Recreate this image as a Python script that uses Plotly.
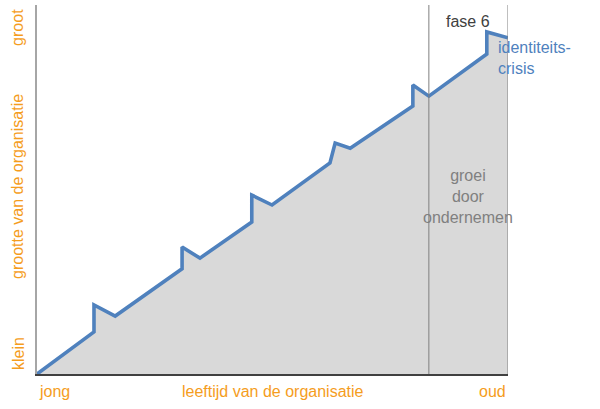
import plotly.graph_objects as go

# growth curve (age 0..100, size 0..100)
age = [0, 12.1, 12.1, 16.6, 30.8, 30.8, 34.6, 45.6, 45.6, 49.9,
       62.2, 63.3, 66.5, 79.8, 79.8, 83.2, 95.5, 95.5, 100]
size = [0, 11.4, 18.7, 15.7, 28.5, 34.4, 31.4, 41.2, 48.5, 45.8,
        57.2, 62.6, 61.2, 72.6, 78.3, 75.3, 86.7, 92.7, 91.1]

phase_start = 83.2
phase_end = 100

ORANGE = "#F59D1D"
BLUE = "#4F81BD"
FONT = "Liberation Sans, Arial, sans-serif"

fig = go.Figure()

fig.add_trace(go.Scatter(
    x=age, y=size,
    mode="lines",
    fill="tozeroy",
    fillcolor="#D9D9D9",
    line=dict(color=BLUE, width=3.6),
    hoverinfo="skip",
))

# phase boundaries
for xb in [phase_start, phase_end]:
    fig.add_shape(type="line", x0=xb, x1=xb, y0=0, y1=100,
                  xref="x", yref="y", line=dict(color="#7F7F7F", width=1))

# texts in the plot
fig.add_annotation(x=91.5, y=95.4, text="fase 6", showarrow=False,
                   font=dict(size=16, color="#404040", family=FONT))
fig.add_annotation(x=97.4, y=85.6, text="identiteits-<br>crisis", showarrow=False,
                   xanchor="left", align="left",
                   font=dict(size=16, color=BLUE, family=FONT))
fig.add_annotation(x=91.5, y=48, text="groei<br>door<br>ondernemen", showarrow=False,
                   font=dict(size=16, color="#808080", family=FONT))

# axis labels (paper coordinates, outside the plot area)
lab = dict(showarrow=False, xref="paper", yref="paper",
           font=dict(size=16, color=ORANGE, family=FONT))
fig.add_annotation(x=0, y=0, yshift=-17, xanchor="left", yanchor="middle",
                   text="jong", **lab)
fig.add_annotation(x=0.5, y=0, yshift=-17, xanchor="center", yanchor="middle",
                   text="leeftijd van de organisatie", **lab)
fig.add_annotation(x=1, y=0, yshift=-17, xanchor="right", yanchor="middle",
                   text="oud", **lab)
side = dict(x=0, xshift=-19, xanchor="center", yanchor="middle", textangle=-90)
fig.add_annotation(y=0.938, text="groot", **side, **lab)
fig.add_annotation(y=0.507, text="grootte van de organisatie", **side, **lab)
fig.add_annotation(y=0.054, text="klein", **side, **lab)

fig.update_layout(
    width=600, height=409,
    margin=dict(l=37, r=92, t=5, b=35),
    showlegend=False,
    plot_bgcolor="white",
    paper_bgcolor="white",
    xaxis=dict(range=[0, 100], showgrid=False, zeroline=False, showticklabels=False,
               showline=True, linecolor="#404040", linewidth=1.5, fixedrange=True),
    yaxis=dict(range=[0, 100], showgrid=False, zeroline=False, showticklabels=False,
               showline=True, linecolor="#A6A6A6", linewidth=1.5, fixedrange=True),
)

fig.write_html("out.html", config={"displayModeBar": False},
               post_script="document.body.style.margin='0';")
